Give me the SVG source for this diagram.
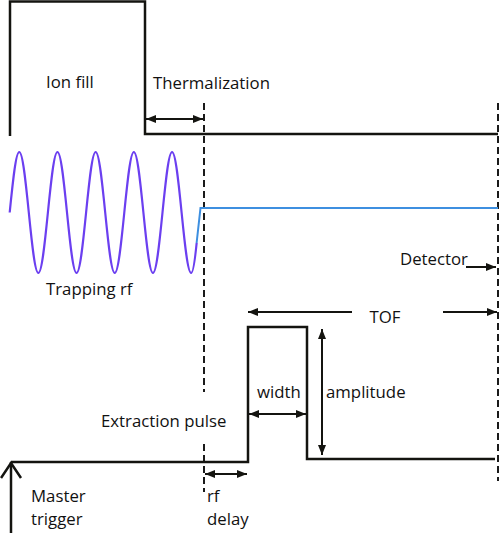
<svg xmlns="http://www.w3.org/2000/svg" width="500" height="533" viewBox="0 0 500 533">
<defs>
<style>
.sig{fill:none;stroke:#141410;stroke-width:2.5;stroke-linejoin:miter}
.dash{fill:none;stroke:#1a1a1a;stroke-width:2;stroke-dasharray:7 4}
.arr{fill:none;stroke:#141410;stroke-width:2;marker-end:url(#ah)}
.arr2{fill:none;stroke:#141410;stroke-width:2;marker-start:url(#ah);marker-end:url(#ah)}
text{font-family:"Open Sans","Liberation Sans",sans-serif;font-size:16.8px;fill:#111}
</style>
<marker id="ah" markerUnits="userSpaceOnUse" markerWidth="10" markerHeight="8" refX="10" refY="4" orient="auto-start-reverse">
<path d="M0,0 L10,4 L0,8 z" fill="#141410"/>
</marker>
</defs>
<rect width="500" height="533" fill="#fff"/>

<g id="connectors">
<line class="dash" x1="204" y1="103" x2="204" y2="492"/>
<line class="dash" x1="498" y1="103" x2="498" y2="481"/>
<line class="arr2" x1="146" y1="119" x2="203" y2="119"/>
<line class="arr" x1="466" y1="267" x2="496" y2="267"/>
<line class="arr" x1="352" y1="312" x2="248" y2="312"/>
<line class="arr" x1="443" y1="312" x2="497" y2="312"/>
<line class="arr2" x1="249" y1="414" x2="306" y2="414"/>
<line class="arr2" x1="322" y1="329" x2="322" y2="455"/>
<line class="arr2" x1="205" y1="474" x2="247" y2="474"/>
</g>

<g id="ion-fill">
<polyline class="sig" points="10,136 10,1.5 145,1.5 145,134 498,134"/>
<text x="46" y="88">Ion fill</text>
</g>

<g id="trapping-rf">
<path fill="none" stroke="#6b3ff0" stroke-width="2.2" d="M9.7,212.5 c3.11,-31 6.11,-60.5 9.55,-60.5 c3.44,0 6.44,29.5 9.55,60.5 c3.11,31 6.11,60.5 9.55,60.5 c3.44,0 6.44,-29.5 9.55,-60.5 c3.11,-31 6.11,-60.5 9.55,-60.5 c3.44,0 6.44,29.5 9.55,60.5 c3.11,31 6.11,60.5 9.55,60.5 c3.44,0 6.44,-29.5 9.55,-60.5 c3.11,-31 6.11,-60.5 9.55,-60.5 c3.44,0 6.44,29.5 9.55,60.5 c3.11,31 6.11,60.5 9.55,60.5 c3.44,0 6.44,-29.5 9.55,-60.5 c3.11,-31 6.11,-60.5 9.55,-60.5 c3.44,0 6.44,29.5 9.55,60.5 c3.11,31 6.11,60.5 9.55,60.5 c3.44,0 6.44,-29.5 9.55,-60.5 c3.11,-31 6.11,-60.5 9.55,-60.5 c3.44,0 6.44,29.5 9.55,60.5 c3.11,31 6.11,60.5 9.55,60.5 c2,0 4,-15 5.5,-30"/>
<polyline fill="none" stroke="#3d8fe0" stroke-width="2" points="196.6,243 200.5,208 498,208"/>
<text x="46" y="295">Trapping rf</text>
</g>

<g id="extraction-pulse">
<rect x="99" y="392" width="132" height="48" fill="#fff"/>
<polyline class="sig" points="11,462 248,462 248,327 307,327 307,459 495,459"/>
<text x="101" y="427">Extraction pulse</text>
</g>

<g id="master-trigger">
<line class="sig" x1="11" y1="462" x2="11" y2="533"/>
<polyline class="sig" points="1,478 11,463 21,478"/>
<text x="31" y="502">Master</text>
<text x="31" y="525">trigger</text>
</g>

<g id="labels">
<text x="153" y="89">Thermalization</text>
<text x="400" y="265">Detector</text>
<text x="385" y="323" text-anchor="middle">TOF</text>
<text x="279" y="398" text-anchor="middle">width</text>
<text x="326" y="398">amplitude</text>
<text x="207" y="502">rf</text>
<text x="207" y="525">delay</text>
</g>
</svg>
